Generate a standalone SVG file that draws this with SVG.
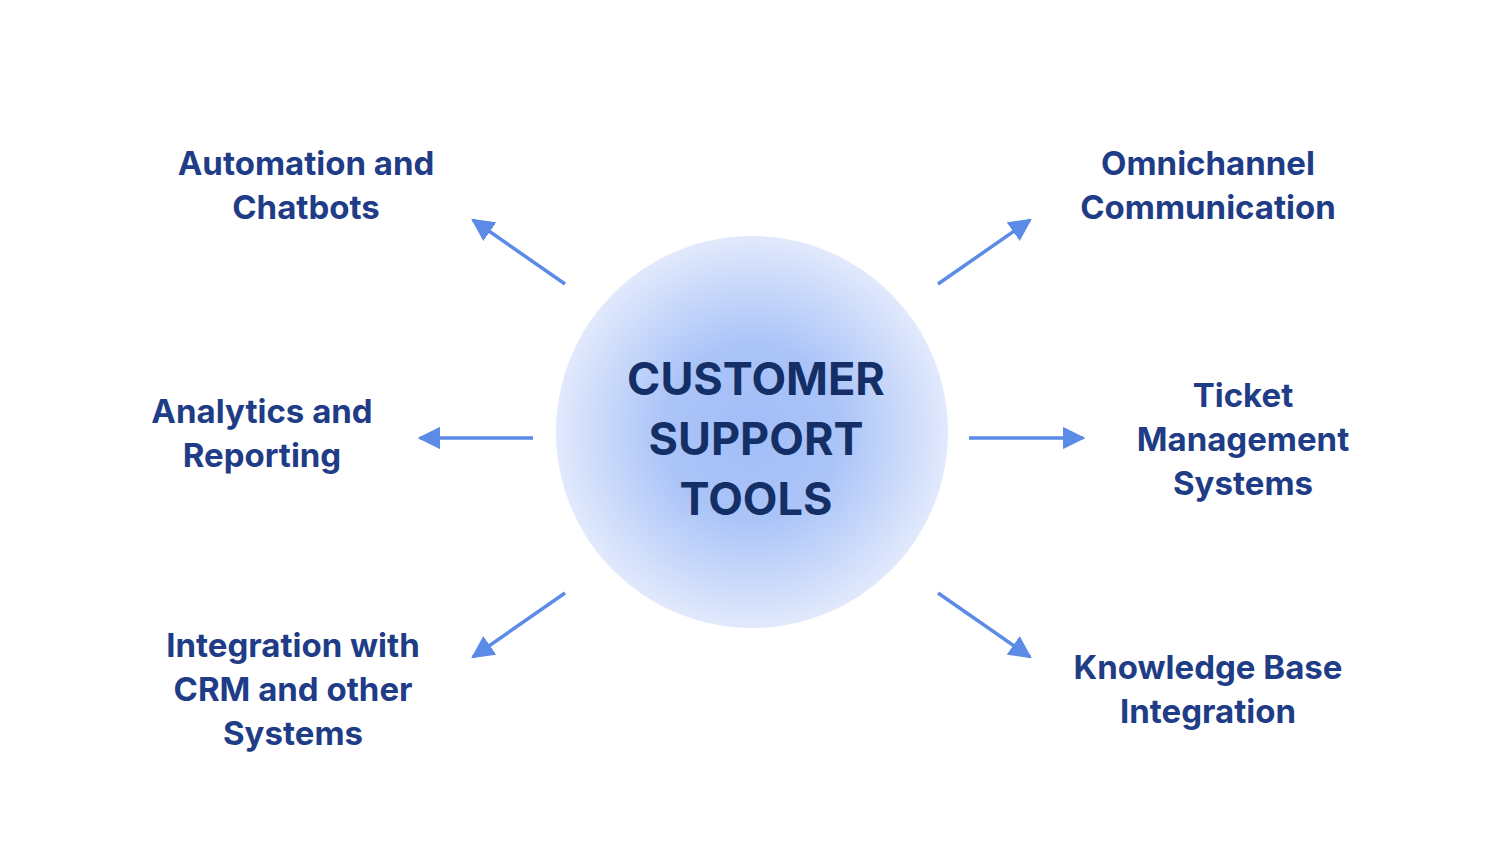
<svg xmlns="http://www.w3.org/2000/svg" width="1504" height="864" viewBox="0 0 1504 864">
<style>
.l{font-family:Inter,"Liberation Sans",sans-serif;font-weight:700;font-size:33px;fill:#1f3c86;text-anchor:middle}
.c{font-family:Inter,"Liberation Sans",sans-serif;font-weight:700;font-size:45px;fill:#142f66;text-anchor:middle}
.a{stroke:#5b8be6;stroke-width:3.5;fill:none;marker-end:url(#h)}
</style>
<defs>
<radialGradient id="g" cx="0.5" cy="0.5" r="0.5">
<stop offset="0" stop-color="#a2bef8"/>
<stop offset="0.45" stop-color="#abc4f8"/>
<stop offset="1" stop-color="#e1e9fc"/>
</radialGradient>
<marker id="h" viewBox="0 0 10 10" refX="9" refY="5" markerWidth="6.5" markerHeight="6.5" orient="auto" markerUnits="strokeWidth">
<path d="M0,0 L10,5 L0,10 Z" fill="#5b8be6"/>
</marker>
</defs>
<rect width="1504" height="864" fill="#fff"/>
<g id="center">
<circle cx="752" cy="432" r="196" fill="url(#g)"/>
<text class="c" x="756" y="395">CUSTOMER</text>
<text class="c" x="756" y="455">SUPPORT</text>
<text class="c" x="756" y="515">TOOLS</text>
</g>
<g id="connectors">
<line class="a" x1="565" y1="284" x2="473" y2="220"/>
<line class="a" x1="938" y1="284" x2="1030" y2="220"/>
<line class="a" x1="533" y1="438" x2="420" y2="438"/>
<line class="a" x1="969" y1="438" x2="1083" y2="438"/>
<line class="a" x1="565" y1="593" x2="473" y2="657"/>
<line class="a" x1="938" y1="593" x2="1030" y2="657"/>
</g>
<g id="automation"><text class="l" x="306" y="175">Automation and</text><text class="l" x="306" y="219">Chatbots</text></g>
<g id="omnichannel"><text class="l" x="1208" y="175">Omnichannel</text><text class="l" x="1208" y="219">Communication</text></g>
<g id="analytics"><text class="l" x="262" y="423">Analytics and</text><text class="l" x="262" y="467">Reporting</text></g>
<g id="ticket"><text class="l" x="1243" y="407">Ticket</text><text class="l" x="1243" y="451">Management</text><text class="l" x="1243" y="495">Systems</text></g>
<g id="integration"><text class="l" x="293" y="657">Integration with</text><text class="l" x="293" y="701">CRM and other</text><text class="l" x="293" y="745">Systems</text></g>
<g id="knowledge"><text class="l" x="1208" y="679">Knowledge Base</text><text class="l" x="1208" y="723">Integration</text></g>
</svg>
